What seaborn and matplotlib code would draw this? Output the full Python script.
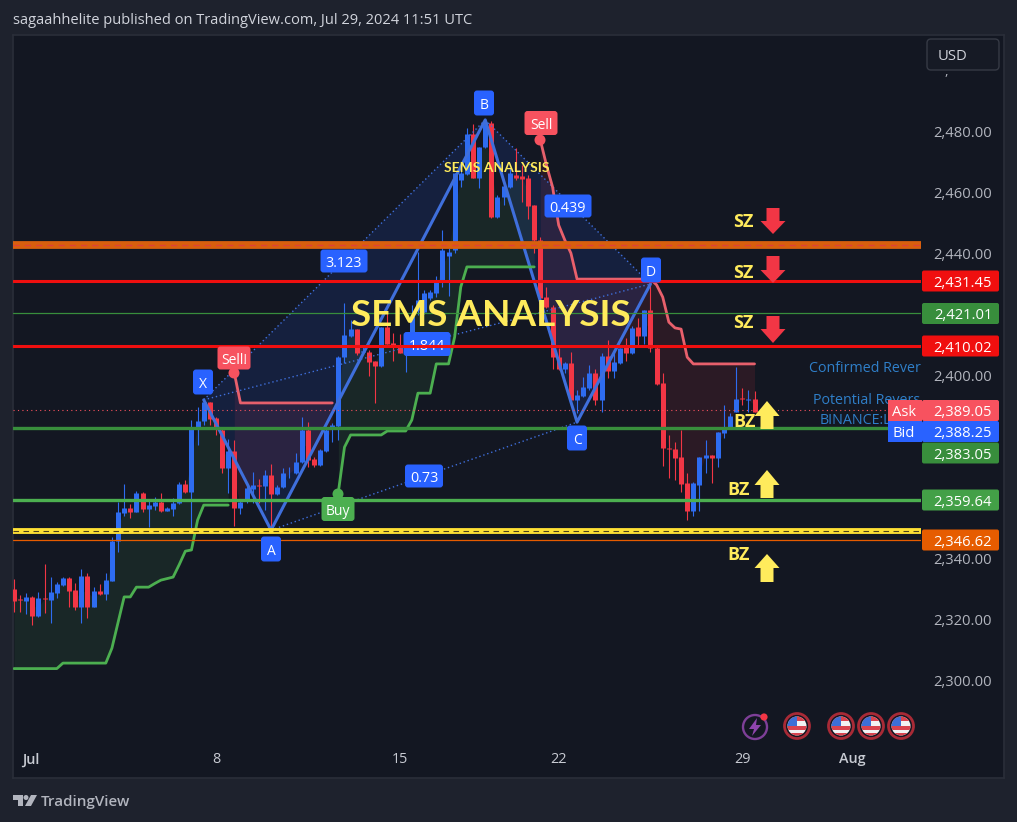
import matplotlib
matplotlib.use('Agg')
import matplotlib.pyplot as plt
import numpy as np
import pandas as pd
import seaborn as sns
from matplotlib.patches import Circle, FancyBboxPatch, Polygon, Rectangle
from matplotlib.transforms import Affine2D

# Свечи: значения
opens = [2330.0, 2326.6, 2326.2, 2327.4, 2321.2, 2327.2, 2326.4, 2328.6, 2331.2, 2333.6,
         2329.7, 2324.2, 2334.2, 2324.2, 2329.3, 2328.4, 2332.7, 2345.7, 2354.8, 2356.6,
         2355.4, 2361.4, 2356.2, 2357.2, 2358.4, 2355.7, 2356.2, 2358.1, 2364.4, 2361.9,
         2383.0, 2385.2, 2391.2, 2386.0, 2382.1, 2369.8, 2375.3, 2356.4, 2359.2, 2362.9,
         2364.1, 2363.8, 2367.4, 2361.2, 2363.6, 2367.9, 2367.9, 2371.5, 2382.1, 2372.6,
         2370.7, 2375.4, 2382.4, 2383.6, 2405.9, 2412.9, 2415.1, 2407.8, 2407.8, 2404.9,
         2403.1, 2416.0, 2410.5, 2409.5, 2407.3, 2413.9, 2421.5, 2420.8, 2425.4, 2427.0,
         2431.3, 2439.2, 2441.1, 2464.1, 2466.1, 2479.2, 2464.7, 2474.9, 2482.8, 2451.9,
         2458.5, 2461.8, 2465.7, 2465.4, 2464.7, 2455.9, 2444.4, 2425.7, 2422.4, 2406.0,
         2402.1, 2404.1, 2392.0, 2393.3, 2395.9, 2400.8, 2392.0, 2406.4, 2401.5, 2404.1,
         2409.3, 2407.4, 2415.9, 2413.0, 2421.5, 2409.0, 2397.5, 2376.2, 2375.9, 2373.3,
         2364.7, 2355.5, 2364.1, 2372.9, 2373.9, 2372.9, 2381.1, 2383.1, 2388.0, 2392.6, 2392.0, 2392.3]
closes = [2326.2, 2326.3, 2327.4, 2321.2, 2327.0, 2326.7, 2329.0, 2331.7, 2333.6, 2329.5,
          2324.0, 2334.2, 2324.2, 2329.3, 2328.2, 2332.9, 2345.8, 2355.1, 2356.5, 2355.2,
          2361.4, 2356.2, 2357.4, 2358.4, 2355.6, 2356.6, 2358.1, 2364.4, 2361.8, 2382.35,
          2385.2, 2391.4, 2385.7, 2383.2, 2369.8, 2375.3, 2356.7, 2358.6, 2363.0, 2364.0,
          2363.9, 2367.3, 2361.2, 2363.6, 2367.9, 2368.1, 2371.5, 2382.1, 2372.3, 2370.7,
          2375.6, 2382.1, 2383.8, 2406.0, 2413.3, 2415.1, 2407.5, 2408.0, 2404.5, 2403.1,
          2416.0, 2410.3, 2409.5, 2407.5, 2409.5, 2419.5, 2424.7, 2427.0, 2427.4, 2431.3,
          2441.1, 2440.5, 2466.4, 2466.4, 2479.2, 2464.7, 2474.9, 2483.1, 2451.9, 2458.5,
          2462.1, 2466.4, 2464.7, 2464.4, 2455.6, 2444.4, 2425.4, 2422.4, 2406.0, 2402.1,
          2404.1, 2392.0, 2393.6, 2396.2, 2400.8, 2392.0, 2406.4, 2401.5, 2404.4, 2409.0,
          2407.4, 2415.6, 2413.0, 2421.5, 2409.0, 2397.2, 2376.2, 2376.0, 2372.9, 2364.4,
          2355.5, 2364.7, 2373.3, 2373.9, 2372.9, 2381.5, 2382.4, 2386.7, 2392.3, 2392.3, 2392.3, 2388.0]
highs = [2333.3, 2328.0, 2328.6, 2327.6, 2328.9, 2338.2, 2334.0, 2332.4, 2334.0, 2334.0,
         2331.9, 2336.6, 2335.1, 2330.8, 2331.6, 2335.1, 2347.2, 2358.6, 2364.4, 2357.9,
         2362.2, 2361.9, 2359.2, 2360.3, 2361.6, 2356.8, 2359.7, 2365.2, 2365.7, 2385.4,
         2389.6, 2392.5, 2391.2, 2386.5, 2382.4, 2379.1, 2378.9, 2359.2, 2364.1, 2368.3,
         2366.0, 2369.0, 2371.0, 2364.1, 2369.6, 2369.9, 2374.5, 2386.5, 2384.6, 2373.4,
         2375.9, 2382.7, 2384.3, 2406.5, 2423.9, 2418.2, 2415.1, 2410.0, 2408.4, 2404.9,
         2416.0, 2420.9, 2413.8, 2413.6, 2411.6, 2423.1, 2440.6, 2428.0, 2428.0, 2432.6,
         2447.7, 2441.8, 2466.4, 2469.7, 2481.1, 2482.4, 2474.9, 2483.1, 2483.4, 2459.2,
         2462.1, 2468.0, 2474.6, 2469.0, 2465.7, 2455.9, 2445.4, 2429.0, 2423.1, 2409.0,
         2404.4, 2407.7, 2395.2, 2399.5, 2403.4, 2402.1, 2407.4, 2411.6, 2408.3, 2409.0,
         2412.3, 2416.2, 2418.8, 2421.5, 2430.3, 2409.7, 2400.8, 2380.5, 2378.2, 2382.1,
         2368.0, 2365.0, 2373.3, 2378.8, 2373.9, 2381.5, 2390.3, 2387.7, 2402.8, 2395.9, 2395.2, 2394.9]
lows = [2322.6, 2322.6, 2321.8, 2318.2, 2320.9, 2322.0, 2318.7, 2327.0, 2331.0, 2324.2,
        2323.1, 2319.0, 2320.5, 2324.0, 2328.0, 2326.4, 2332.6, 2342.2, 2353.9, 2353.2,
        2355.2, 2355.4, 2350.4, 2355.9, 2355.4, 2355.5, 2353.9, 2357.9, 2361.6, 2349.9,
        2377.2, 2383.8, 2383.8, 2380.5, 2367.9, 2361.4, 2350.8, 2354.6, 2358.1, 2358.1,
        2358.1, 2355.9, 2350.4, 2360.8, 2363.0, 2366.3, 2367.7, 2371.4, 2370.1, 2369.9,
        2370.3, 2375.0, 2378.3, 2378.9, 2404.0, 2412.7, 2406.7, 2407.3, 2399.8, 2390.9,
        2402.9, 2410.3, 2404.9, 2407.3, 2401.3, 2413.3, 2419.8, 2420.2, 2424.7, 2425.7,
        2429.0, 2426.0, 2440.1, 2461.8, 2465.7, 2464.7, 2461.5, 2474.6, 2451.6, 2451.6,
        2455.9, 2461.5, 2464.1, 2456.9, 2451.3, 2440.1, 2424.7, 2422.1, 2402.1, 2401.8,
        2400.8, 2392.0, 2387.7, 2392.9, 2395.2, 2390.3, 2388.0, 2399.2, 2399.2, 2403.8,
        2404.8, 2407.0, 2410.0, 2410.3, 2407.7, 2396.9, 2370.3, 2366.4, 2365.7, 2361.8,
        2352.6, 2353.9, 2355.5, 2368.0, 2364.7, 2370.0, 2379.5, 2382.8, 2388.0, 2390.3, 2388.0, 2388.0]

# Ступенчатые линии индикатора (по барам)
green1_start = 0
green1 = [2303.9] * 8 + [2305.7] * 8 + [2310.6, 2319.0, 2327.4, 2327.4, 2330.6, 2330.6, 2330.6,
          2331.8, 2332.9, 2333.4, 2333.9, 2338.0, 2342.4, 2342.8, 2352.6] + [2357.5] * 5
green2_start = 53
green2 = [2361.8, 2376.5] + [2380.5] * 6 + [2381.8] * 4 + [2385.4] + [2394.2] * 3 + [2403.8] * 3 \
    + [2412.6, 2429.0] + [2435.6] * 12
red1_start = 36
red1 = [2400.8] + [2391.0] * 16
red2_start = 86
red2 = [2477.2, 2469.0, 2461.8, 2449.3, 2444.4, 2440.1] + [2431.6] * 13 \
    + [2429.7, 2425.7, 2417.5, 2415.6, 2415.2, 2406.0] + [2403.8] * 11

# Гармонический паттерн XABCD
pattern_bars = {'X': 31, 'A': 42, 'B': 77, 'C': 92, 'D': 104}
pattern_prices = {'X': 2392.0, 'A': 2349.3, 'B': 2483.8, 'C': 2384.7, 'D': 2430.0}

price_ticks = [2480, 2460, 2440, 2400, 2340, 2320, 2300]
date_ticks = [2.8, 33, 63, 88.9, 119, 137]
date_labels = ['Jul', '8', '15', '22', '29', 'Aug']

BG = '#1e222d'
PANE = '#131722'
BLUE = '#2e6cf0'
RED = '#f23645'
LINE_BLUE = '#3f6fdc'
GREEN = '#4caf50'
DARK_GREEN = '#388e3c'
YELLOW = '#ffeb5c'
PRICE_RED = '#f7525f'
TXT = 10.6

sns.set_theme(style='dark', rc={'axes.grid': False})
plt.rcParams['font.family'] = ['Open Sans', 'DejaVu Sans']

W, H = 1017, 822
fig = plt.figure(figsize=(W / 100, H / 100), dpi=100, facecolor=BG)

# пиксели картинки -> экран
px = Affine2D().scale(1, -1).translate(0, H)


def rect_of(left, top, right, bottom):
    return [left / W, 1 - bottom / H, (right - left) / W, (bottom - top) / H]


pane = fig.add_axes(rect_of(13, 35, 1004, 778), facecolor=PANE, zorder=0)
pane.set_xticks([])
pane.set_yticks([])
for s in pane.spines.values():
    s.set_color('#2a2e39')
    s.set_linewidth(1.2)

ax = fig.add_axes(rect_of(13, 36, 921, 744), zorder=1)
ax.patch.set_alpha(0)

opens, closes, highs, lows = map(np.array, (opens, closes, highs, lows))
bars = np.arange(len(opens))
side = np.where(closes >= opens, 'up', 'down')
mid = (opens + closes) / 2

wicks = pd.DataFrame({'bar': np.repeat(bars, 2),
                      'price': np.column_stack([lows, highs]).ravel(),
                      'side': np.repeat(side, 2)})
bodies = pd.DataFrame({'bar': np.repeat(bars, 2),
                       'price': np.column_stack([opens, closes]).ravel(),
                       'side': np.repeat(side, 2)})
palette = {'up': BLUE, 'down': RED}

sns.lineplot(data=wicks, x='bar', y='price', hue='side', units='bar', estimator=None, sort=False,
             palette=palette, linewidth=0.8, legend=False, ax=ax, zorder=2, solid_capstyle='butt')
sns.lineplot(data=bodies, x='bar', y='price', hue='side', units='bar', estimator=None, sort=False,
             palette=palette, linewidth=3.6, legend=False, ax=ax, zorder=2.1, solid_capstyle='butt')

# заливки индикатора
for start, vals, col, line_col in [(green1_start, green1, GREEN, GREEN), (green2_start, green2, GREEN, GREEN),
                                   (red1_start, red1, RED, '#e8606c'), (red2_start, red2, RED, '#e8606c')]:
    idx = np.arange(start, start + len(vals))
    ax.fill_between(idx, vals, mid[idx], color=col, alpha=0.11, linewidth=0, zorder=1)
    sns.lineplot(x=idx, y=vals, color=line_col, linewidth=2.0, estimator=None, ax=ax, zorder=3.5)

# паттерн
names = ['X', 'A', 'B', 'C', 'D']
pb = [pattern_bars[n] for n in names]
pp = [pattern_prices[n] for n in names]
ax.fill([pb[0], pb[1], pb[2]], [pp[0], pp[1], pp[2]], color='#2962ff', alpha=0.13, linewidth=0, zorder=1.2)
ax.fill([pb[2], pb[3], pb[4]], [pp[2], pp[3], pp[4]], color='#2962ff', alpha=0.13, linewidth=0, zorder=1.2)
sns.lineplot(x=pb, y=pp, color=LINE_BLUE, linewidth=2.2, sort=False, estimator=None, ax=ax, zorder=3)
for a, b in [('X', 'B'), ('A', 'C'), ('B', 'D'), ('X', 'D')]:
    sns.lineplot(x=[pattern_bars[a], pattern_bars[b]], y=[pattern_prices[a], pattern_prices[b]],
                 color=LINE_BLUE, linewidth=1.0, linestyle=(0, (1, 2)), sort=False, estimator=None,
                 ax=ax, zorder=3)

# горизонтальные уровни
ax.axhline(2442.8, color='#d95f0e', linewidth=5.6, zorder=6)
ax.axhline(2442.8, color='#e0403a', linewidth=0.9, linestyle=(0, (5, 4)), zorder=6.1)
ax.axhline(2431.0, color='#f00f0f', linewidth=2.2, zorder=6)
ax.axhline(2420.4, color=DARK_GREEN, linewidth=0.9, zorder=6)
ax.axhline(2409.6, color='#f00f0f', linewidth=2.2, zorder=6)
ax.axhline(2388.6, color=PRICE_RED, linewidth=0.8, linestyle=(0, (1, 3)), zorder=6)
ax.axhline(2382.9, color=DARK_GREEN, linewidth=2.4, zorder=6)
ax.axhline(2359.2, color=GREEN, linewidth=2.4, zorder=6)
ax.axhline(2349.0, color='#ffe135', linewidth=4.2, zorder=6)
ax.axhline(2349.0, color='#4a4020', linewidth=0.8, linestyle=(0, (5, 4)), zorder=6.1)
ax.axhline(2346.2, color='#e65c00', linewidth=0.9, zorder=6)

ax.set_xlim(-0.163, 148.2)
ax.set_ylim(2523.11 - 744 / 3.05, 2523.11 - 36 / 3.05)
ax.yaxis.tick_right()
ax.set_yticks(price_ticks, [f'{v:,.2f}' for v in price_ticks])
ax.set_xticks(date_ticks, date_labels)
ax.tick_params(axis='y', length=0, pad=8.5, labelsize=TXT, labelcolor='#b2b5be')
ax.tick_params(axis='x', length=0, pad=6, labelsize=10.4, labelcolor='#c8cbd3')
for t in ax.get_xticklabels():
    if t.get_text() in ('Jul', 'Aug'):
        t.set_fontweight('semibold')
ax.set_xlabel('')
ax.set_ylabel('')
for s in ax.spines.values():
    s.set_visible(False)


def box(cx, cy, w, h, color, text='', tcolor='white', size=TXT, z=8, weight='normal', r=3, dx=0):
    ax.add_patch(FancyBboxPatch((cx - w / 2, cy - h / 2), w, h, boxstyle=f'round,pad=0,rounding_size={r}',
                                facecolor=color, edgecolor='none', transform=px, clip_on=False, zorder=z))
    if text:
        ax.text(cx + dx, cy, text, color=tcolor, fontsize=size, ha='center', va='center_baseline', transform=px,
                clip_on=False, zorder=z + 0.1, fontweight=weight)


def dot(cx, cy, r, color, z=8):
    c = Circle((cx, cy), r, facecolor=color, edgecolor='none', transform=px, clip_on=False, zorder=z)
    ax.add_patch(c)
    return c


def arrow(cx, tip, base, end, color):
    # стрелка вверх/вниз: tip - остриё, base - основание головы, end - конец хвоста
    pts = [(cx, tip), (cx + 12.5, base), (cx + 6.5, base), (cx + 6.5, end),
           (cx - 6.5, end), (cx - 6.5, base), (cx - 12.5, base)]
    ax.add_patch(Polygon(pts, closed=True, facecolor=color, edgecolor='none', transform=px,
                         clip_on=False, zorder=7))


# вершины паттерна
box(484, 103, 20, 25, '#2962ff', 'B', size=10)
box(203, 382, 20, 25, '#2962ff', 'X', size=10)
box(271, 549, 20, 25, '#2962ff', 'A', size=10)
box(577, 438, 20, 25, '#2962ff', 'C', size=10)
box(651, 270, 20, 25, '#2962ff', 'D', size=10)
box(344, 261, 47, 23, '#2962ff', '3.123', size=10.4)
box(568, 206, 47, 23, '#2962ff', '0.439', size=10.4)
box(424, 476, 38, 23, '#2962ff', '0.73', size=10.4)
box(427, 344, 47, 24, '#2962ff', '1.844', size=10.4, z=5)

# сигналы
dot(234, 373, 5.5, PRICE_RED)
box(234, 358, 33, 23, PRICE_RED, 'Sell!', size=10)
dot(540, 140, 5.5, PRICE_RED)
box(541, 123, 33, 24, PRICE_RED, 'Sell', size=10)
dot(338, 494, 5.5, GREEN)
box(338, 509, 33, 24, GREEN, 'Buy', size=10)

# подписи зон
for x, y, s in [(743, 220, 'SZ'), (743, 271, 'SZ'), (743, 321, 'SZ'),
                (745, 420, 'BZ'), (739, 488, 'BZ'), (739, 553, 'BZ')]:
    ax.text(x, y, s, color=YELLOW, fontsize=13, fontweight='bold', ha='center', va='center_baseline',
            transform=px, clip_on=False, zorder=8)
arrow(773, 234, 221, 208, RED)
arrow(773, 283, 270, 256, RED)
arrow(773, 343, 329, 316, RED)
arrow(767, 401, 416, 429, YELLOW)
arrow(767, 470, 485, 498, YELLOW)
arrow(767, 554, 568, 582, YELLOW)

ax.text(491, 312, 'SEMS ANALYSIS', color=YELLOW, fontsize=26.6, fontweight='bold', family='Lato', ha='center',
        va='center_baseline', transform=px, clip_on=False, zorder=8)
ax.text(497, 167, 'SEMS ANALYSIS', color=YELLOW, fontsize=10, fontweight='bold', family='Lato', ha='center',
        va='center_baseline', transform=px, clip_on=False, zorder=8)

# обрезанные подписи индикатора
for x, y, s in [(809, 366, 'Confirmed Rever'), (813, 398.5, 'Potential Revers'), (820, 418, 'BINANCE:L')]:
    ax.text(x, y, s, color='#2f7fc9', fontsize=10.3, ha='left', va='center_baseline', transform=px,
            clip_on=False, zorder=5)

# ценовые плашки справа
level_labels = [('2,431.45', '#f00f0f', 281), ('2,421.01', DARK_GREEN, 313.5),
                ('2,410.02', '#f00f0f', 346), ('2,389.05', PRICE_RED, 410.5),
                ('2,388.25', '#2962ff', 431.5), ('2,383.05', DARK_GREEN, 453),
                ('2,359.64', '#43a047', 500), ('2,346.62', '#e65c00', 540)]
for label, col, y in level_labels:
    box(960.5, y, 77, 21, col, label, size=TXT, z=9, r=2, dx=2.5)
ax.add_patch(Rectangle((888, 400), 33.5, 21, facecolor=PRICE_RED, edgecolor='none', transform=px, clip_on=False, zorder=9))
ax.add_patch(Rectangle((888, 421), 33.5, 21, facecolor='#2962ff', edgecolor='none', transform=px, clip_on=False, zorder=9))
ax.text(904, 410.5, 'Ask', color='white', fontsize=TXT, ha='center', va='center_baseline', transform=px, clip_on=False, zorder=9.1)
ax.text(904, 431.5, 'Bid', color='white', fontsize=TXT, ha='center', va='center_baseline', transform=px, clip_on=False, zorder=9.1)

# USD
ax.add_patch(FancyBboxPatch((927, 39), 72, 31, boxstyle='round,pad=0,rounding_size=4', facecolor='#161a25',
                            edgecolor='#363a45', linewidth=1, transform=px, clip_on=False, zorder=9))
ax.text(938, 54.5, 'USD', color='#d1d4dc', fontsize=TXT, ha='left', va='center_baseline', transform=px,
        clip_on=False, zorder=9.1)
ax.text(946, 70, ',', color='#b2b5be', fontsize=9.7, ha='center', va='center_baseline', transform=px,
        clip_on=False, zorder=8)

# иконки событий
ax.add_patch(Circle((755, 727), 12, facecolor='none', edgecolor='#7e3f98', linewidth=1.7, transform=px,
                    clip_on=False, zorder=8))
ax.add_patch(Polygon([(757, 718), (749, 729), (754, 729), (752, 736), (761, 725), (756, 725)], closed=True,
                     facecolor='#8e44ad', edgecolor='none', transform=px, clip_on=False, zorder=8))
dot(764, 717, 3.6, RED, z=8.2)
for fx in [797, 841, 871, 901]:
    ax.add_patch(Circle((fx, 726), 12.5, facecolor='#131722', edgecolor='#a82a36', linewidth=2, transform=px,
                        clip_on=False, zorder=8))
    disc = Circle((fx, 726), 9.5, facecolor='#f2f2f2', edgecolor='none', transform=px, zorder=8.1, clip_on=False)
    ax.add_patch(disc)
    for (rx, ry, rw, rh, col) in [(fx - 10, 716, 20, 5, '#d9434e'), (fx - 10, 726, 20, 3.5, '#d9434e'),
                                  (fx - 10, 732.5, 20, 4, '#d9434e'), (fx - 10, 716, 10, 10, '#3d6fd6')]:
        r = Rectangle((rx, ry), rw, rh, facecolor=col, edgecolor='none', transform=px, zorder=8.2)
        ax.add_patch(r)
        r.set_clip_path(disc)

# шапка и подвал
fig.text(13 / W, 1 - 19 / H, 'sagaahhelite published on TradingView.com, Jul 29, 2024 11:51 UTC',
         color='#d1d4dc', fontsize=10.5, ha='left', va='center_baseline')
fig.text(41 / W, 1 - 800 / H, 'TradingView', color='#b2b5be', fontsize=10.9, fontweight='semibold',
         ha='left', va='center_baseline')
ax.add_patch(Polygon([(13, 795), (23, 795), (23, 806), (18, 806), (18, 800), (13, 800)], closed=True,
                     facecolor='#b2b5be', edgecolor='none', transform=px, clip_on=False, zorder=8))
dot(26, 797.5, 2.5, '#b2b5be')
ax.add_patch(Polygon([(31, 795), (37, 795), (31, 806), (25, 806)], closed=True, facecolor='#b2b5be',
                     edgecolor='none', transform=px, clip_on=False, zorder=8))

fig.savefig('out.png', dpi=100, facecolor=BG)
